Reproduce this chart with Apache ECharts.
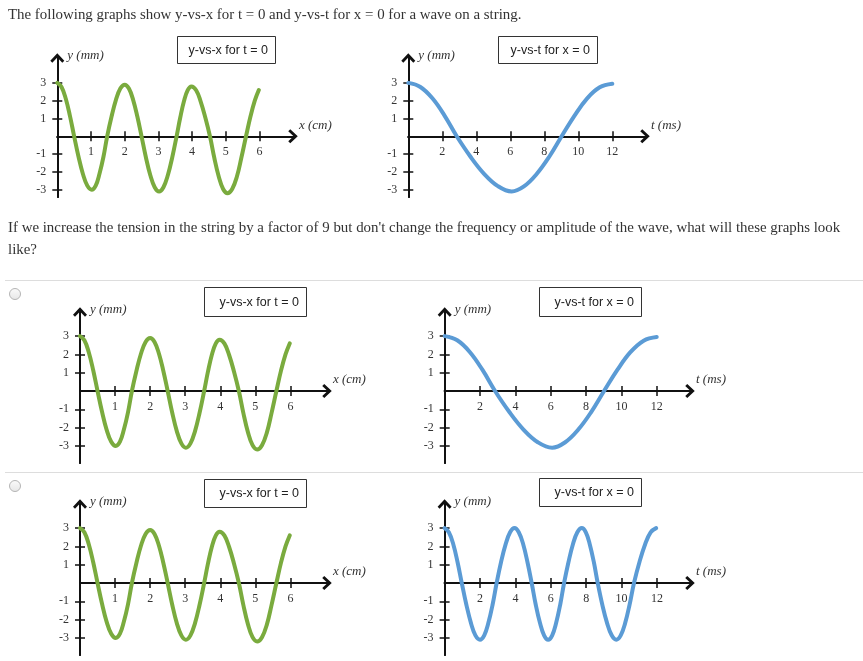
<!DOCTYPE html>
<html><head><meta charset="utf-8">
<script src="https://cdn.jsdelivr.net/npm/echarts@6/dist/echarts.min.js"></script>
<style>html,body{margin:0;padding:0;background:#fff}#c{width:863px;height:661px}</style>
</head><body><div id="c"></div><script>
// ---------- data ----------
const introText = 'The following graphs show y-vs-x for t = 0 and y-vs-t for x = 0 for a wave on a string.';
const questionLines = ["If we increase the tension in the string by a factor of 9 but don't change the frequency or amplitude of the wave, what will these graphs look", 'like?'];
const boxLabelX = 'y-vs-x for t = 0';
const boxLabelT = 'y-vs-t for x = 0';
const yName = 'y (mm)';
const xNameX = 'x (cm)';
const xNameT = 't (ms)';
const yTicks = [-3, -2, -1, 1, 2, 3];
const xTicksX = [1, 2, 3, 4, 5, 6];
const xTicksT = [2, 4, 6, 8, 10, 12];
// y (mm) vs x (cm) at t = 0
const waveX = [[0,3],[0.125,2.77],[0.25,2.12],[0.375,1.15],[0.5,0],
  [0.63,-1.15],[0.76,-2.12],[0.89,-2.77],[1.02,-3.0],
  [1.14,-2.77],[1.25,-2.12],[1.37,-1.15],[1.48,0],
  [1.61,1.11],[1.74,2.05],[1.87,2.68],[2.0,2.9],
  [2.125,2.68],[2.25,2.05],[2.375,1.11],[2.5,0],
  [2.63,-1.19],[2.76,-2.19],[2.89,-2.86],[3.02,-3.1],
  [3.15,-2.86],[3.28,-2.19],[3.41,-1.19],[3.54,0],
  [3.65,1.07],[3.76,1.98],[3.87,2.59],[3.98,2.8],
  [4.12,2.59],[4.25,1.98],[4.39,1.07],[4.53,0],
  [4.66,-1.22],[4.79,-2.26],[4.92,-2.96],[5.05,-3.2],
  [5.19,-2.96],[5.33,-2.26],[5.46,-1.22],[5.6,0],
  [5.73,1.1],[5.86,2.0],[5.98,2.6]];
// y (mm) vs t (ms) at x = 0, original
const waveT = [[0,3],[0.71,2.77],[1.43,2.12],[2.14,1.15],[2.85,0],
  [3.66,-1.15],[4.47,-2.12],[5.27,-2.8],[6.08,-3.1],
  [6.82,-2.8],[7.55,-2.12],[8.29,-1.15],[9.02,0],
  [9.77,1.15],[10.51,2.12],[11.26,2.75],[12,2.95]];
// y (mm) vs t (ms) at x = 0, second option
const waveTFast = [[0,3],[0.24,2.77],[0.49,2.12],[0.73,1.15],[0.97,0],
  [1.23,-1.19],[1.49,-2.19],[1.74,-2.86],[2.0,-3.1],
  [2.24,-2.86],[2.47,-2.19],[2.71,-1.19],[2.94,0],
  [3.19,1.15],[3.45,2.12],[3.7,2.77],[3.95,3.0],
  [4.19,2.77],[4.44,2.12],[4.68,1.15],[4.92,0],
  [5.15,-1.19],[5.39,-2.19],[5.62,-2.86],[5.85,-3.1],
  [6.08,-2.86],[6.3,-2.19],[6.53,-1.19],[6.75,0],
  [7.0,1.15],[7.25,2.12],[7.5,2.77],[7.75,3.0],
  [7.98,2.77],[8.2,2.12],[8.43,1.15],[8.65,0],
  [8.91,-1.19],[9.18,-2.19],[9.44,-2.86],[9.7,-3.1],
  [9.95,-2.86],[10.2,-2.19],[10.45,-1.19],[10.7,0],
  [11.01,1.15],[11.33,2.12],[11.64,2.77],[11.95,3.0]];

// ---------- styles / layout ----------
const GREEN = '#7aab3e', BLUE = '#5b9bd5', INK = '#111', TXT = '#333';
const SERIF = '"Liberation Serif","Times New Roman",serif';
const SANS = '"Liberation Sans",Arial,sans-serif';
const panels = [
  {data: waveX, color: GREEN, ticks: xTicksX, xName: xNameX, box: boxLabelX},
  {data: waveT, color: BLUE, ticks: xTicksT, xName: xNameT, box: boxLabelT},
  {data: waveX, color: GREEN, ticks: xTicksX, xName: xNameX, box: boxLabelX},
  {data: waveT, color: BLUE, ticks: xTicksT, xName: xNameT, box: boxLabelT},
  {data: waveX, color: GREEN, ticks: xTicksX, xName: xNameX, box: boxLabelX},
  {data: waveTFast, color: BLUE, ticks: xTicksT, xName: xNameT, box: boxLabelT}
];
const layout = [
  {x0: 57.3, sx: 33.7, tip: 298, y0: 136.3, sy: 17.8, yTop: 53, yBot: 197, box: [177, 36, 98, 27]},
  {x0: 408.3, sx: 17.0, tip: 650, y0: 136.3, sy: 17.8, yTop: 53, yBot: 197, box: [498, 36, 99, 27]},
  {x0: 80, sx: 35.07, tip: 332, y0: 391, sy: 18.3, yTop: 307, yBot: 463, box: [204, 287, 102, 29]},
  {x0: 444.7, sx: 17.67, tip: 695, y0: 391, sy: 18.3, yTop: 307, yBot: 463, box: [539, 287, 102, 29]},
  {x0: 80, sx: 35.07, tip: 332, y0: 583, sy: 18.3, yTop: 499, yBot: 655, box: [204, 479, 102, 28]},
  {x0: 444.6, sx: 17.7, tip: 695, y0: 583, sy: 18.3, yTop: 499, yBot: 655, box: [539, 478, 102, 28]}
];
const CHEVRON = 'path://M7,0 L14,7.5 L12,9.5 L7,4.2 L2,9.5 L0,7.5 Z';
const ARW = 5; // half arrow height

const grids = [], xAxes = [], yAxes = [], series = [], graphics = [];
const tickStyle = {color: INK, width: 1.5};
const lineStyle = {color: INK, width: 2};
panels.forEach((p, i) => {
  const L = layout[i];
  const lineEndX = L.tip - ARW, lineTopY = L.yTop + ARW;
  grids.push({left: L.x0, top: lineTopY, width: lineEndX - L.x0, height: L.yBot - lineTopY, containLabel: false});
  const xmax = (lineEndX - L.x0) / L.sx;
  const ymax = (L.y0 - lineTopY) / L.sy;
  const ymin = -(L.yBot - L.y0) / L.sy;
  xAxes.push({
    gridIndex: i, type: 'value', min: 0, max: xmax, position: 'bottom', offset: -(L.yBot - L.y0),
    axisLine: {show: true, onZero: false, lineStyle, symbol: ['none', CHEVRON], symbolSize: [14, 10]},
    axisTick: {show: true, customValues: p.ticks, length: 5, lineStyle: tickStyle},
    axisLabel: {show: true, customValues: p.ticks, margin: 10, fontFamily: SERIF, fontSize: 12, color: TXT},
    splitLine: {show: false},
    name: p.xName, nameLocation: 'end', nameGap: ARW + 1,
    nameTextStyle: {fontFamily: SERIF, fontStyle: 'italic', fontSize: 13, color: TXT, align: 'left', verticalAlign: 'bottom', lineHeight: 22}
  });
  xAxes.push({
    gridIndex: i, type: 'value', min: 0, max: xmax, position: 'top', offset: -(L.y0 - lineTopY),
    axisLine: {show: true, onZero: false, lineStyle},
    axisTick: {show: true, customValues: p.ticks, length: 5, lineStyle: tickStyle},
    axisLabel: {show: false}, splitLine: {show: false}
  });
  yAxes.push({
    gridIndex: i, type: 'value', min: ymin, max: ymax, position: 'left',
    axisLine: {show: true, onZero: false, lineStyle, symbol: ['none', CHEVRON], symbolSize: [14, 10]},
    axisTick: {show: true, customValues: yTicks, length: 5, lineStyle: tickStyle},
    axisLabel: {show: true, customValues: yTicks, margin: 11, fontFamily: SERIF, fontSize: 12, color: TXT},
    splitLine: {show: false},
    name: yName, nameLocation: 'end', nameGap: ARW - 3,
    nameTextStyle: {fontFamily: SERIF, fontStyle: 'italic', fontSize: 13, color: TXT, align: 'left', verticalAlign: 'middle', padding: [0, 0, 0, 10]}
  });
  yAxes.push({
    gridIndex: i, type: 'value', min: ymin, max: ymax, position: 'right', offset: -(lineEndX - L.x0),
    axisLine: {show: true, onZero: false, lineStyle},
    axisTick: {show: true, customValues: yTicks, length: 5, lineStyle: tickStyle},
    axisLabel: {show: false}, splitLine: {show: false}
  });
  series.push({
    type: 'line', xAxisIndex: 2 * i, yAxisIndex: 2 * i, data: p.data,
    showSymbol: false, smooth: 0.4, silent: true, clip: false,
    lineStyle: {color: p.color, width: 4, cap: 'round', join: 'round'}
  });
  const [bx, by, bw, bh] = L.box;
  graphics.push({type: 'rect', shape: {x: bx + 0.5, y: by + 0.5, width: bw, height: bh}, style: {fill: '#fff', stroke: '#333', lineWidth: 1}, z: 10});
  graphics.push({type: 'text', x: bx + bw - 7, y: by + bh / 2 + 1, style: {text: p.box, font: '12.5px ' + SANS, fill: '#222', align: 'right', verticalAlign: 'middle'}, z: 11});
});

// page texts and decorations
graphics.push({type: 'text', x: 8, y: 15, style: {text: introText, font: '14.9px ' + SERIF, fill: TXT, verticalAlign: 'middle'}});
graphics.push({type: 'text', x: 8, y: 228, style: {text: questionLines[0], font: '14.9px ' + SERIF, fill: TXT, verticalAlign: 'middle'}});
graphics.push({type: 'text', x: 8, y: 250, style: {text: questionLines[1], font: '14.9px ' + SERIF, fill: TXT, verticalAlign: 'middle'}});
[280, 472].forEach(y => graphics.push({type: 'line', shape: {x1: 5, y1: y + 0.5, x2: 863, y2: y + 0.5}, style: {stroke: '#dddddd', lineWidth: 1}}));
[294, 486].forEach(y => graphics.push({type: 'circle', shape: {cx: 15, cy: y, r: 5.5}, style: {fill: {type: 'linear', x: 0, y: 0, x2: 0, y2: 1, colorStops: [{offset: 0, color: '#fbfbfb'}, {offset: 1, color: '#e6e6e6'}]}, stroke: '#b5b5b5', lineWidth: 1}}));

const chart = echarts.init(document.getElementById('c'), null, {renderer: 'canvas'});
chart.setOption({
  backgroundColor: '#fff',
  animation: false,
  grid: grids, xAxis: xAxes, yAxis: yAxes, series,
  graphic: {elements: graphics}
});
</script></body></html>
